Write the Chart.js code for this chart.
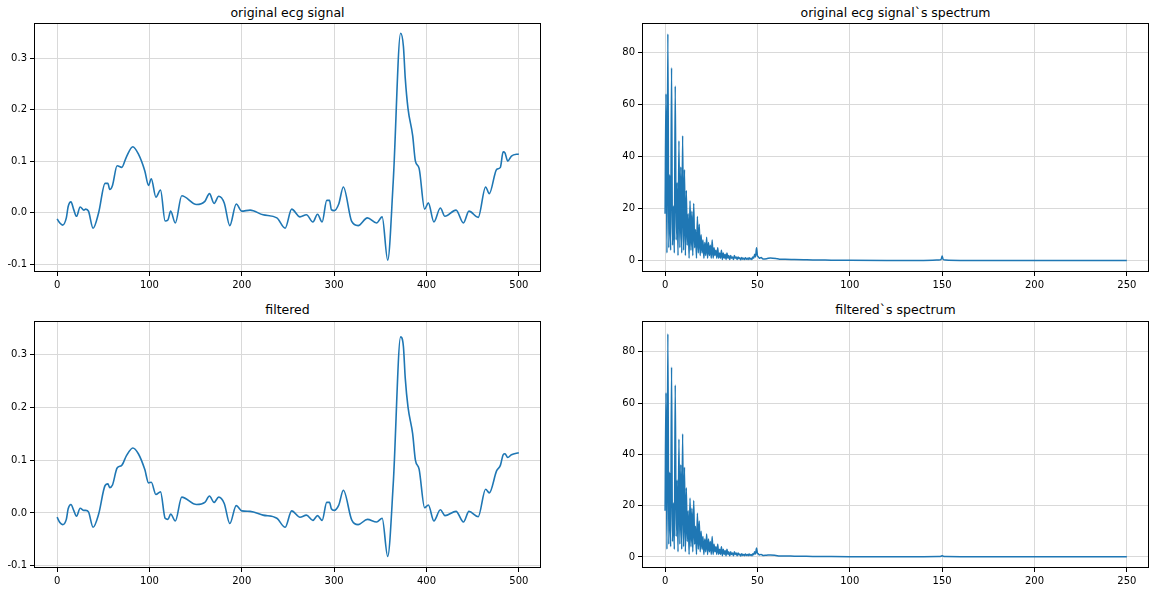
<!DOCTYPE html>
<html>
<head>
<meta charset="utf-8">
<script src="https://cdn.jsdelivr.net/npm/chart.js@4"></script>
<style>
body { margin:0; background:#fff; width:1156px; height:591px; position:relative; font-family:"DejaVu Sans"; }
canvas { position:absolute; }
.title { position:absolute; font-size:12.5px; color:#000; text-align:center; }
</style>
</head>
<body>
<div class="title" style="left:34px;top:5px;width:507px">original ecg signal</div>
<div class="title" style="left:642px;top:5px;width:507px">original ecg signal`s spectrum</div>
<div class="title" style="left:34px;top:302px;width:507px">filtered</div>
<div class="title" style="left:642px;top:302px;width:507px">filtered`s spectrum</div>
<div style="position:absolute;left:0;top:14px;width:542px;height:283px"><canvas id="c1"></canvas></div>
<div style="position:absolute;left:608px;top:14px;width:542px;height:283px"><canvas id="c2"></canvas></div>
<div style="position:absolute;left:0;top:312px;width:542px;height:281px"><canvas id="c3"></canvas></div>
<div style="position:absolute;left:608px;top:312px;width:542px;height:281px"><canvas id="c4"></canvas></div>
<script>
// ecg samples (sample index, value)
var ecgX = [0,3,6,10,12,15,18,21,25,29,31,34,39,45,52,55,57,60,65,70,75,82,88,95,99,102,107,112,117,120,123,128,135,151,160,165,170,175,181,187,194,200,209,223,238,247,254,263,270,277,282,287,292,295,297,300,305,310,319,326,336,346,352,358,364,372,375,377,380,385,388,392,398,402,408,415,420,432,440,446,456,464,468,476,480,483,485,488,492,500];
var ecgY = [-0.012,-0.02,-0.024,-0.01,0.012,0.021,0.006,-0.007,0.011,0.005,0.007,0.003,-0.03,0,0.057,0.057,0.045,0.053,0.091,0.088,0.108,0.128,0.114,0.081,0.053,0.066,0.03,0.044,-0.016,-0.014,0.003,-0.02,0.033,0.016,0.022,0.037,0.018,0.032,0.019,-0.025,0.017,0.003,0.005,-0.004,-0.01,-0.03,0.007,-0.008,-0.004,-0.018,-0.003,-0.018,0.024,0.024,0.006,0.004,0.017,0.05,-0.017,-0.025,-0.01,-0.02,-0.008,-0.092,0.061,0.348,0.323,0.261,0.202,0.15,0.1,0.086,0.007,0.019,-0.018,0.009,-0.007,0.005,-0.02,0.003,-0.009,0.05,0.037,0.084,0.088,0.118,0.116,0.1,0.11,0.114];
var filtY = [-0.008,-0.018,-0.022,-0.012,0.008,0.016,0.005,-0.006,0.009,0.005,0.005,0.002,-0.027,-0.002,0.052,0.055,0.048,0.053,0.085,0.09,0.108,0.123,0.112,0.082,0.057,0.058,0.035,0.04,-0.01,-0.012,-0.002,-0.015,0.03,0.016,0.02,0.032,0.02,0.03,0.018,-0.02,0.014,0.004,0.003,-0.004,-0.01,-0.027,0.004,-0.008,-0.004,-0.014,-0.005,-0.014,0.02,0.02,0.008,0.005,0.015,0.043,-0.013,-0.022,-0.012,-0.017,-0.01,-0.082,0.055,0.333,0.315,0.255,0.2,0.15,0.1,0.083,0.01,0.015,-0.015,0.006,-0.005,0.003,-0.017,0.003,-0.007,0.045,0.038,0.08,0.09,0.11,0.112,0.105,0.11,0.114];

// spectrum, 0..50.5 Hz in 0.5 Hz steps
var specLow = [18,64,3,87,5,33,4,74,6,21,3,67,8,30,2,46,5,36,3,48,4,35,2,27,6,18,1,23,4,19,2,22,5,12,1,17,3,14,2,10,3,8,1,7,2,9,1,7,2,6,1,8,1,5,2,4,1,5,1,3,1,4,0.5,3,1,2.5,0.5,3,1,2,0.5,2,1,1.5,0.5,2,1,1.5,0.5,1.5,0.8,1.2,0.4,1.3,0.6,1,0.5,1.2,0.6,1,0.5,1.2,0.6,1,0.5,1.5,1,2.5,1.5,5,2,1.5];
var filtLow = [18,64,3,87,5,33,4,74,6,21,3,67,8,30,2,46,5,36,3,48,4,35,2,27,6,18,1,23,4,19,2,22,5,12,1,17,3,14,2,10,3,8,1,7,2,9,1,7,2,6,1,8,1,5,2,4,1,5,1,3,1,4,0.5,3,1,2.5,0.5,3,1,2,0.5,2,1,1.5,0.5,2,1,1.5,0.5,1.5,0.8,1.2,0.4,1.3,0.6,1,0.5,1.2,0.6,1,0.5,1.2,0.6,1,0.5,1.3,0.9,2,1.2,3.5,1.5,1.2];
var tailX = [51,52,53,55,57,60,62,65,70,75,80,90,100,120,140,148,149.5,150,150.5,152,160,200,250];
var specTail = [1,1.3,0.7,0.8,1.1,0.9,0.6,0.6,0.5,0.4,0.3,0.25,0.2,0.15,0.15,0.3,0.6,1.8,0.6,0.3,0.15,0.1,0.1];
var filtTail = [0.8,1,0.6,0.7,0.8,0.6,0.4,0.4,0.3,0.25,0.2,0.15,0.12,0.1,0.1,0.15,0.3,0.5,0.3,0.15,0.1,0.1,0.1];

var blue = '#1f77b4';

function pts(xs, ys) { return xs.map(function(x, i){ return {x:x, y:ys[i]}; }); }
function specPts(low, tail) {
  var p = low.map(function(v, i){ return {x:i*0.5, y:v}; });
  return p.concat(pts(tailX, tail));
}

function makeChart(id, data, lw, tension, xr, yr, step, xstep, fmt) {
  new Chart(document.getElementById(id), {
    type:'line',
    data:{ datasets:[{ data:data, borderColor:blue, borderWidth:lw, pointRadius:0, tension:tension, cubicInterpolationMode:'monotone' }] },
    options:{
      responsive:true, maintainAspectRatio:false, animation:false,
      layout:{ padding:{ right:1 } },
      plugins:{ legend:{display:false}, tooltip:{enabled:false} },
      scales:{
        x:{ type:'linear', min:xr[0], max:xr[1],
            afterFit:function(s){ s.height = 25; },
            afterBuildTicks:function(s){ var t=[]; for (var v=0; v<=xr[1]; v+=xstep) t.push({value:v}); s.ticks=t; },
            grid:{ color:'#d9d9d9', tickColor:'#000', tickLength:4 },
            border:{ display:false },
            ticks:{ color:'#000', font:{family:'DejaVu Sans', size:10}, maxRotation:0 } },
        y:{ min:yr[0], max:yr[1],
            afterFit:function(s){ s.width = 34; },
            afterBuildTicks:function(s){ var t=[]; for (var v=yr[2]; v<=yr[1]+1e-9; v+=step) t.push({value:+v.toFixed(3)}); s.ticks=t; },
            grid:{ color:'#d9d9d9', tickColor:'#000', tickLength:4 },
            border:{ display:false },
            ticks:{ color:'#000', font:{family:'DejaVu Sans', size:10}, callback:fmt } }
      }
    },
    plugins:[{ id:'frame', afterDraw:function(c){ var a=c.chartArea, g=c.ctx; g.save(); g.strokeStyle='#000'; g.lineWidth=1; g.strokeRect(Math.round(a.left)+0.5,Math.round(a.top)+0.5,Math.round(a.right-a.left)-1,Math.round(a.bottom-a.top)-1); g.restore(); } }]
  });
}

var f1 = function(v){ return v.toFixed(1); };
var f0 = function(v){ return v.toFixed(0); };
makeChart('c1', pts(ecgX, ecgY), 1.6, 0.4, [-25,524], [-0.115,0.368,-0.1], 0.1, 100, f1);
makeChart('c2', specPts(specLow, specTail), 1.5, 0, [-12.5,262], [-4.3,91.2,0], 20, 50, f0);
makeChart('c3', pts(ecgX, filtY), 1.6, 0.4, [-25,524], [-0.104,0.363,-0.1], 0.1, 100, f1);
makeChart('c4', specPts(filtLow, filtTail), 1.5, 0, [-12.5,262], [-4.3,92,0], 20, 50, f0);
</script>
</body>
</html>
